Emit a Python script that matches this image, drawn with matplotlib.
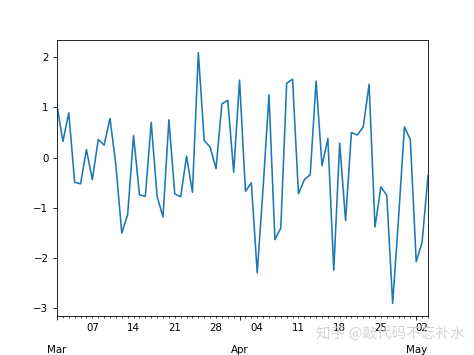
import matplotlib
matplotlib.use("Agg")
import matplotlib.pyplot as plt
import matplotlib.dates as mdates
from matplotlib.ticker import FuncFormatter
import pandas as pd

start_date = "2022-03-01"
values = [1.04, 0.32, 0.89, -0.49, -0.52, 0.16, -0.44, 0.36, 0.25, 0.78,
          -0.15, -1.50, -1.13, 0.44, -0.74, -0.77, 0.70, -0.77, -1.18, 0.75,
          -0.72, -0.78, 0.03, -0.69, 2.09, 0.34, 0.21, -0.22, 1.07, 1.14,
          -0.29, 1.54, -0.67, -0.50, -2.29, -0.60, 1.25, -1.63, -1.40, 1.48,
          1.56, -0.72, -0.44, -0.34, 1.52, -0.16, 0.38, -2.24, 0.29, -1.25,
          0.50, 0.45, 0.61, 1.46, -1.38, -0.58, -0.75, -2.90, -1.20, 0.61,
          0.36, -2.07, -1.68, -0.36]
yticks = [-3, -2, -1, 0, 1, 2]
watermark = "知乎 @敲代码不忘补水"

dates = pd.date_range(start_date, periods=len(values), freq="D")

fig = plt.figure(figsize=(4.74, 3.55), dpi=100)
ax = fig.add_axes([57/474, 1-316/355, (428-57)/474, (316-40)/355])
ax.plot(dates, values, color="#1f77b4", linewidth=1.15)
ax.set_xlim(dates[0], dates[-1])
ax.set_yticks(yticks)

ax.xaxis.set_major_locator(mdates.MonthLocator())
ax.xaxis.set_major_formatter(mdates.DateFormatter("\n\n%b"))
ax.xaxis.set_minor_locator(mdates.DayLocator())

def minor_fmt(x, pos):
    d = mdates.num2date(x)
    return d.strftime("%d") if d.weekday() == 0 else ""

ax.xaxis.set_minor_formatter(FuncFormatter(minor_fmt))
ax.tick_params(axis="both", which="major", labelsize=7.4, length=2.6, width=0.6)
ax.tick_params(axis="x", which="minor", labelsize=7.4, length=1.5, width=0.5)
for lbl in ax.get_xticklabels(which="major"):
    lbl.set_linespacing(1.05)
for s in ax.spines.values():
    s.set_linewidth(0.6)

fig.text(390/474, 1-333/355, watermark, ha="center", va="center",
         fontsize=10.5, color="#cfcfcf", alpha=0.9,
         family=["Noto Sans CJK SC", "DejaVu Sans"])

fig.savefig("out.png", dpi=100)
